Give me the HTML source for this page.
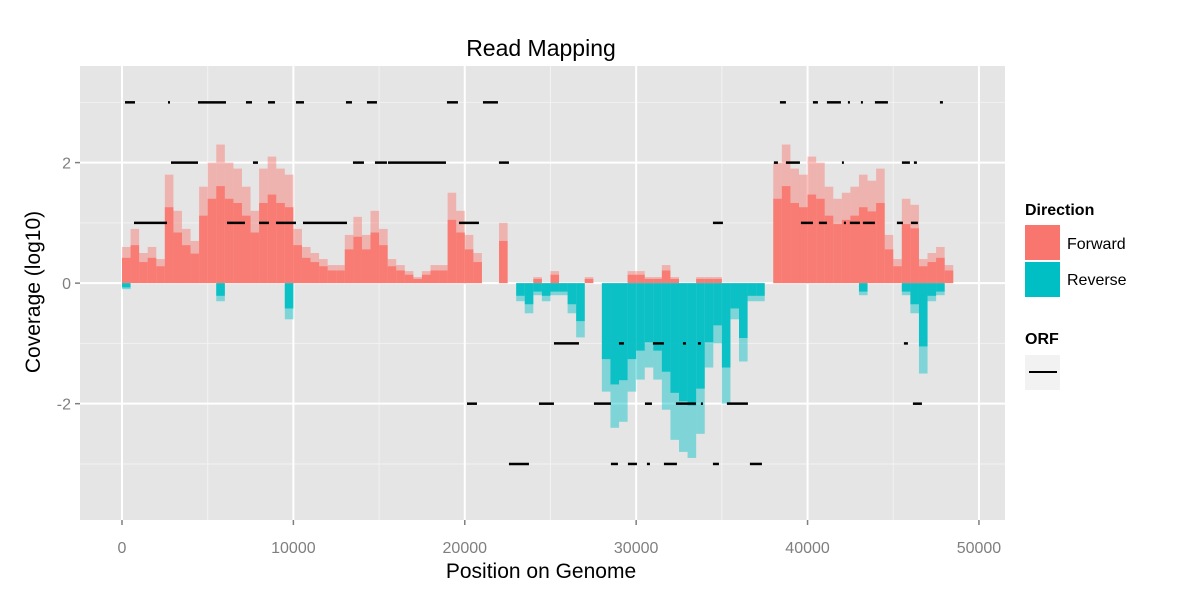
<!DOCTYPE html>
<html><head><meta charset="utf-8"><style>
body{margin:0;background:#fff;}
svg{display:block;font-family:"Liberation Sans",sans-serif;}
</style></head><body>
<svg id="chart" width="1200" height="600">
<rect x="80" y="66" width="925" height="454" fill="#E5E5E5"/>
<g id="grid"></g><g id="bars"></g><g id="orfs"></g><g id="axes"></g>
<text x="541" y="56" text-anchor="middle" font-size="23" fill="#000">Read Mapping</text>
<text x="541" y="578" text-anchor="middle" font-size="21" fill="#000">Position on Genome</text>
<text transform="translate(40,292) rotate(-90)" text-anchor="middle" font-size="21" fill="#000">Coverage (log10)</text>
<g>
<text x="1025" y="215" font-size="16" font-weight="bold">Direction</text>
<g><rect x="1025" y="225" width="35" height="35" fill="#F8766D"/><text x="1067" y="249" font-size="16">Forward</text></g>
<g><rect x="1025" y="262" width="35" height="35" fill="#00BFC4"/><text x="1067" y="285" font-size="16">Reverse</text></g>
<text x="1025" y="344" font-size="16" font-weight="bold">ORF</text>
<g><rect x="1025" y="355" width="35" height="35" fill="#F2F2F2"/><line x1="1029" y1="372" x2="1057" y2="372" stroke="#000" stroke-width="2"/></g>
</g>
</svg>
<script>
const binSize = 500;
const fwdCov = [0.6,0.9,0.5,0.6,0.4,1.8,1.2,0.9,0.7,1.6,2.0,2.3,2.0,1.9,1.6,1.2,1.9,2.1,1.9,1.8,
0.9,0.6,0.5,0.4,0.3,0.3,0.8,1.1,0.8,1.2,0.9,0.4,0.3,0.2,0.1,0.2,0.3,0.3,1.5,1.2,
0.8,0.5,0,0,1.0,0,0,0,0.1,0,0.2,0,0,0,0.1,0,0,0,0,0.2,
0.2,0.1,0.1,0.3,0.1,0,0,0.1,0.1,0.1,0,0,0,0,0,0,0,0,0,0,
0,0,0,0,0.1,0.1,0,0,0,0,0,0,0,0,0,0,0,0,0,0,0,0,0,0,0,0,0];
const fwdCov2 = [2.0,2.3,1.9,1.8,2.1,2.0,1.6,1.4,1.5,1.6,1.8,1.7,1.9,0.8,0.4,1.4,1.3,0.4,0.5,0.6,0.3];
const fwdCov2Start = 38000;
const revCov = [-0.1,0,0,0,0,0,0,0,0,0,0,-0.3,0,0,0,0,0,0,0,-0.6,
0,0,0,0,0,0,0,0,0,0,0,0,0,0,0,0,0,0,0,0,
0,0,0,0,0,0,-0.3,-0.5,-0.2,-0.3,-0.2,-0.2,-0.5,-0.9,0,0,-1.8,-2.4,-2.3,-1.8,
-1.6,-1.4,-1.6,-2.1,-2.6,-2.8,-2.9,-2.5,-1.4,-1.0,-2.0,-0.6,-1.3,-0.3,-0.3,0,0,0,0,0,
0,0,0,0,0,0,-0.2,0,0,0,0,-0.2,-0.5,-1.5,-0.3,-0.2,0];
const orfFrames = [3,2,1,-1,-2,-3];
const orfF3 = [[175,758],[2684,2800],[4434,6067],[7234,7584],[8518,8926],[10151,10618],[13068,13418],[14293,14877],[18960,19602],[21061,21936],[38388,38738],[40313,40605],[41130,41947],[42355,42471],[43113,43230],[43930,44689],[47723,47898]];
const orfF2 = [[2859,4434],[7642,7934],[13476,14118],[14760,15460],[15519,18902],[21994,22578],[38038,38271],[38738,39555],[42005,42121],[45505,45972],[46205,46380]];
const orfF1 = [[700,2625],[6126,7176],[7993,8576],[8984,10151],[10560,13127],[19660,20827],[34479,35062],[39613,40313],[40663,41130],[42121,42238],[42471,43055],[43230,43930],[45213,45563],[46030,46438]];
const orfR1 = [[25203,26662],[28995,29287],[30978,31620],[32728,32903],[33603,33778],[45622,45855]];
const orfR2 = [[20127,20711],[24328,25203],[27537,28528],[30512,30920],[32320,33487],[33778,33895],[35295,36520],[46147,46672]];
const orfR3 = [[22578,23744],[28528,28937],[29520,30045],[30628,30803],[31620,32378],[34479,34829],[36637,37337]];
const xTicks = [0,10000,20000,30000,40000,50000];
const yTicks = [-2,0,2];

const NS="http://www.w3.org/2000/svg";
const X0=80,X1=1005,Y0=66,Y1=520;
const xmin=-2450,xmax=51520,ymin=-3.93,ymax=3.603;
function sx(v){return X0+(v-xmin)/(xmax-xmin)*(X1-X0);}
function sy(v){return Y1-(v-ymin)/(ymax-ymin)*(Y1-Y0);}
function mk(tag,attrs,parent){const e=document.createElementNS(NS,tag);for(const k in attrs)e.setAttribute(k,attrs[k]);parent.appendChild(e);return e;}
const grid=document.getElementById('grid'),bars=document.getElementById('bars'),orfs=document.getElementById('orfs'),axes=document.getElementById('axes');
for(let i=0;i<xTicks.length-1;i++){const v=(xTicks[i]+xTicks[i+1])/2;const l=mk('line',{x1:sx(v),x2:sx(v),y1:Y0,y2:Y1,stroke:'#F2F2F2','stroke-width':1},grid);
}
for(const v of [-3,-1,1,3]){const l=mk('line',{x1:X0,x2:X1,y1:sy(v),y2:sy(v),stroke:'#F2F2F2','stroke-width':1},grid);
}
for(const v of xTicks){const l=mk('line',{x1:sx(v),x2:sx(v),y1:Y0,y2:Y1,stroke:'#fff','stroke-width':2},grid);

const tk=mk('line',{x1:sx(v),x2:sx(v),y1:Y1,y2:Y1+5,stroke:'#7F7F7F','stroke-width':1.5},axes);

const t=mk('text',{x:sx(v),y:Y1+33,'text-anchor':'middle','font-size':16,fill:'#7F7F7F'},axes);t.textContent=v;
}
for(const v of yTicks){const l=mk('line',{x1:X0,x2:X1,y1:sy(v),y2:sy(v),stroke:'#fff','stroke-width':2},grid);

const tk=mk('line',{x1:X0-5,x2:X0,y1:sy(v),y2:sy(v),stroke:'#7F7F7F','stroke-width':1.5},axes);

const t=mk('text',{x:X0-9,y:sy(v)+6,'text-anchor':'end','font-size':16,fill:'#7F7F7F'},axes);t.textContent=v;
}
function drawBar(start,val,color,name){if(!val)return;const x=sx(start),w=sx(start+binSize)-x;
const y=val>0?sy(val):sy(0),h=Math.abs(sy(val)-sy(0));
const r=mk('rect',{x:x,y:y,width:w,height:h,fill:color,'fill-opacity':0.45},bars);

const b=val*0.7;const y2=b>0?sy(b):sy(0),h2=Math.abs(sy(b)-sy(0));
const r2=mk('rect',{x:x,y:y2,width:w,height:h2,fill:color,'fill-opacity':0.9},bars);
}
fwdCov.forEach((v,i)=>{if(i*binSize<fwdCov2Start)drawBar(i*binSize,v,'#F8766D','forward-coverage-bar');});
fwdCov2.forEach((v,i)=>drawBar(fwdCov2Start+i*binSize,v,'#F8766D','forward-coverage-bar'));
revCov.forEach((v,i)=>drawBar(i*binSize,v,'#00BFC4','reverse-coverage-bar'));
const orfSets=[orfF3,orfF2,orfF1,orfR1,orfR2,orfR3];
orfSets.forEach((set,k)=>{const f=orfFrames[k];for(const [a,b] of set){
const l=mk('line',{x1:sx(a),x2:sx(b),y1:sy(f),y2:sy(f),stroke:'#000','stroke-width':2.5},orfs);
}});
</script>
</body></html>
